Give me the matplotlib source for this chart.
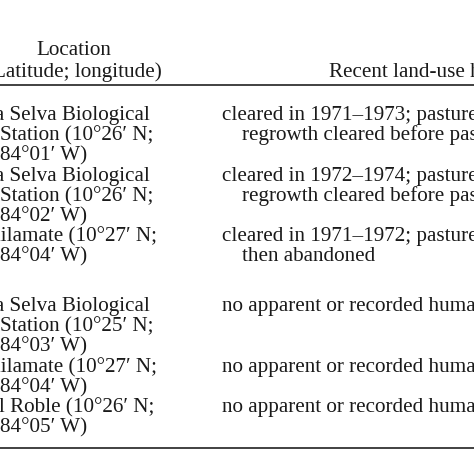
import matplotlib.pyplot as plt
from matplotlib.lines import Line2D

# table content (first column is cut off on the left in the reference)
header_left = ["Location", "(Latitude; longitude)"]
header_right = "Recent land-use history"
site_lines = [
    ["La Selva Biological", "Station (10°26′ N;", "84°01′ W)"],
    ["La Selva Biological", "Station (10°26′ N;", "84°02′ W)"],
    ["Chilamate (10°27′ N;", "84°04′ W)"],
    ["La Selva Biological", "Station (10°25′ N;", "84°03′ W)"],
    ["Chilamate (10°27′ N;", "84°04′ W)"],
    ["El Roble (10°26′ N;", "84°05′ W)"],
]
history_lines = [
    ["cleared in 1971–1973; pasture", "regrowth cleared before pasture"],
    ["cleared in 1971–1974; pasture".replace("1971–1974", "1972–1974"), "regrowth cleared before pasture"],
    ["cleared in 1971–1972; pasture", "then abandoned"],
    ["no apparent or recorded human"],
    ["no apparent or recorded human"],
    ["no apparent or recorded human"],
]
row_top = [120, 181, 241, 311, 372, 412]
first_x = [-18, -18, -24, -18, -24, -14]

W = H = 474
fig = plt.figure(figsize=(4.74, 4.74), dpi=100)
fs = 15.2
font = dict(family="Liberation Serif", fontsize=fs, color="#1a1a1a", va="baseline")

def txt(x, y, s, **kw):
    fig.text(x / W, 1 - y / H, s, **font, **kw)

txt(36, 55, header_left[0])
txt(-14, 77, header_left[1])
txt(329, 77, header_right)

for i, top in enumerate(row_top):
    for j, s in enumerate(site_lines[i]):
        txt(first_x[i] if j == 0 else 0, top + 20 * j, s)
    for j, s in enumerate(history_lines[i]):
        txt(222 if j == 0 else 242, top + 20 * j, s)

for y in (85, 448):
    fig.add_artist(Line2D([0, 1], [1 - y / H] * 2, color="#333333", lw=1.3))

fig.savefig("out.png", dpi=100)
